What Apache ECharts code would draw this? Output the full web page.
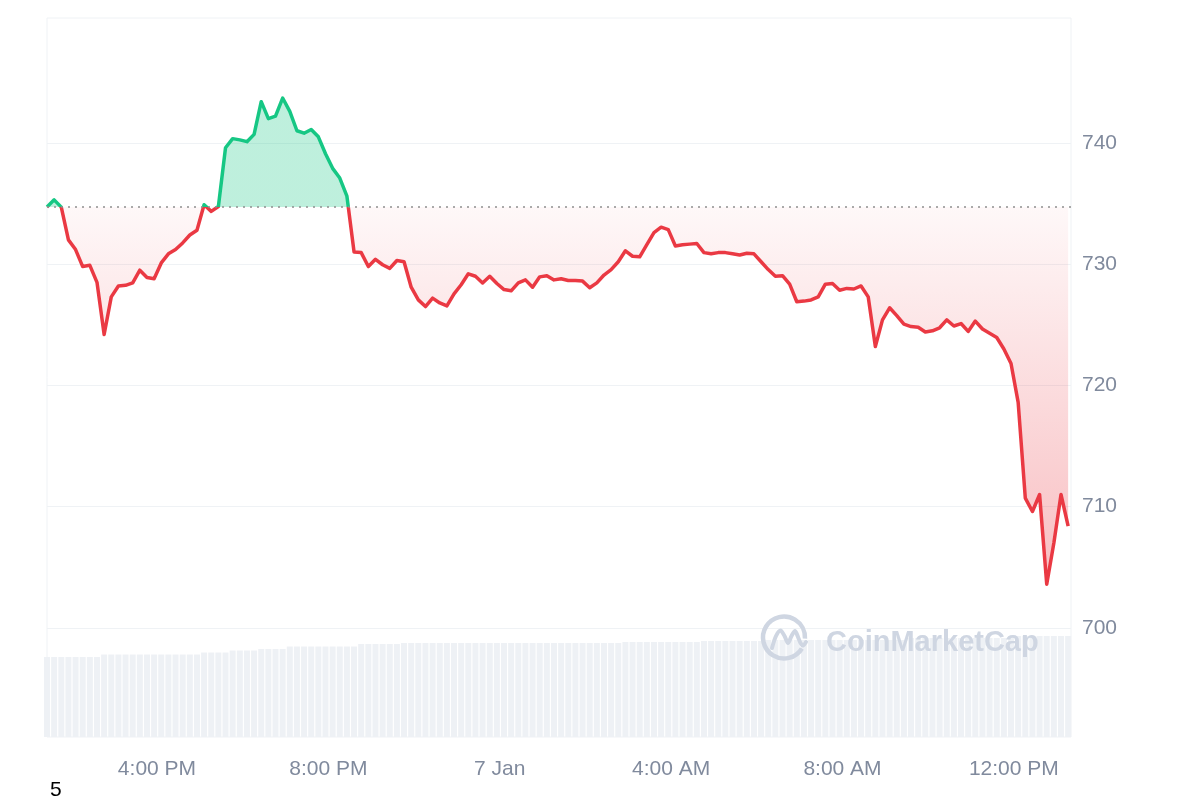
<!DOCTYPE html>
<html><head><meta charset="utf-8">
<script src="https://cdn.jsdelivr.net/npm/echarts@6/dist/echarts.min.js"></script>
<style>html,body{margin:0;padding:0;background:#fff}#c{width:1200px;height:800px}</style>
</head><body><div id="c"></div>
<script>
const startTime = '2025-01-06 13:26';
const endTime = '2025-01-07 13:20';
const stepMinutes = 10;
const baselinePrice = 734.72;

const prices = [
 734.72,735.3,734.7,732.0,731.2,729.8,729.9,728.5,724.2,727.3,
 728.2,728.25,728.45,729.5,728.9,728.8,730.1,730.85,731.2,731.75,
 732.4,732.8,734.9,734.35,734.75,739.6,740.35,740.25,740.1,740.7,
 743.4,742.0,742.2,743.7,742.6,741.0,740.8,741.1,740.5,739.1,
 737.9,737.1,735.6,731.0,730.95,729.8,730.4,729.95,729.65,730.3,
 730.2,728.1,727.05,726.5,727.2,726.8,726.55,727.55,728.3,729.2,
 729.0,728.45,729.0,728.4,727.9,727.8,728.45,728.7,728.1,728.95,
 729.05,728.7,728.8,728.65,728.65,728.6,728.05,728.45,729.1,729.55,
 730.2,731.1,730.65,730.6,731.6,732.6,733.05,732.85,731.5,731.6,
 731.65,731.7,730.95,730.85,730.95,730.95,730.85,730.75,730.9,730.85,
 730.2,729.55,729.0,729.05,728.35,726.9,726.95,727.05,727.3,728.35,
 728.4,727.85,728.0,727.95,728.2,727.3,723.2,725.4,726.4,725.75,
 725.05,724.85,724.8,724.4,724.5,724.75,725.4,724.9,725.1,724.45,
 725.3,724.65,724.3,723.95,723.0,721.8,718.6,710.7,709.6,711.0,
 703.6,707.0,711.0,708.4
];

const volumes = [
 1.60,1.60,1.60,1.60,1.60,1.60,1.60,1.60,
 1.65,1.65,1.65,1.65,1.65,1.65,1.65,1.65,1.65,1.65,1.65,1.65,1.65,1.65,
 1.69,1.69,1.69,1.69,
 1.73,1.73,1.73,1.73,
 1.76,1.76,1.76,1.76,
 1.81,1.81,1.81,1.81,1.81,1.81,1.81,1.81,1.81,1.81,
 1.86,1.86,1.86,1.86,1.86,1.86,
 1.88,1.88,1.88,1.88,1.88,1.88,1.88,1.88,1.88,1.88,1.88,1.88,1.88,1.88,1.88,1.88,
 1.88,1.88,1.88,1.88,1.88,1.88,1.88,1.88,1.88,1.88,1.88,1.88,1.88,1.88,1.88,
 1.90,1.90,1.90,1.90,1.90,1.90,1.90,1.90,1.90,1.90,1.90,
 1.92,1.92,1.92,1.92,1.92,1.92,1.92,1.92,1.92,
 1.94,1.94,1.94,1.94,1.94,1.94,1.94,1.94,1.94,1.94,1.94,1.94,1.94,1.94,1.94,1.94,1.94,1.94,1.94,1.94,
 1.98,1.98,1.98,1.98,1.98,1.98,1.98,1.98,1.98,1.98,1.98,1.98,1.98,1.98,
 2.02,2.02,2.02,2.02,2.02,2.02,2.02,2.02,2.02
];

const xTickTimes = ['2025-01-06 16:00','2025-01-06 20:00','2025-01-07 00:00','2025-01-07 04:00','2025-01-07 08:00','2025-01-07 12:00'];
const xTickLabels = ['4:00 PM','8:00 PM','7 Jan','4:00 AM','8:00 AM','12:00 PM'];
const yTicks = [700, 710, 720, 730, 740];

function parseLocal(s) {
  const [d, t] = s.split(' ');
  const [Y, M, D] = d.split('-').map(Number);
  const [h, m] = t.split(':').map(Number);
  return new Date(Y, M - 1, D, h, m).getTime();
}

const t0 = parseLocal(startTime);
const tEnd = parseLocal(endTime);
const step = stepMinutes * 60000;
const priceData = prices.map((p, i) => [t0 + i * step, p]);
const volData = volumes.map((v, i) => [t0 + i * step, v]);
const tickTs = xTickTimes.map(parseLocal);

const G = { left: 47, top: 18, width: 1024, height: 719 };
const yMin = 691, yMax = 750.3;
const volMax = 14.38;

const pix = v => G.top + (yMax - v) / (yMax - yMin) * G.height;
const bFrac = (pix(baselinePrice) - G.top) / G.height;
const lowFrac = Math.min(1, (pix(Math.min(...prices)) - G.top) / G.height);

const GREEN = '#16c784', RED = '#ea3943';
const areaGrad = new echarts.graphic.LinearGradient(0, G.top, 0, G.top + G.height, [
  { offset: 0, color: 'rgba(22,199,132,0.28)' },
  { offset: bFrac, color: 'rgba(22,199,132,0.28)' },
  { offset: bFrac, color: 'rgba(234,57,67,0.035)' },
  { offset: lowFrac, color: 'rgba(234,57,67,0.33)' },
  { offset: 1, color: 'rgba(234,57,67,0.33)' }
], true);
const lineGrad = new echarts.graphic.LinearGradient(0, G.top, 0, G.top + G.height, [
  { offset: 0, color: GREEN },
  { offset: bFrac, color: GREEN },
  { offset: bFrac, color: RED },
  { offset: 1, color: RED }
], true);

const FONT = 'Liberation Sans, Arial, sans-serif';
const wmColor = '#cfd6e2';

const chart = echarts.init(document.getElementById('c'), null, { renderer: 'canvas' });
chart.setOption({
  animation: false,
  backgroundColor: '#fff',
  grid: { left: G.left, top: G.top, width: G.width, height: G.height, show: true, borderColor: '#eff2f5', borderWidth: 1, containLabel: false },
  xAxis: {
    type: 'value', min: t0, max: tEnd, scale: true,
    axisLine: { show: false }, axisTick: { show: false, customValues: tickTs }, splitLine: { show: false },
    axisLabel: {
      customValues: tickTs, color: '#808a9d', fontSize: 21, fontFamily: FONT, margin: 22,
      formatter: function (v) { const k = tickTs.indexOf(v); return k >= 0 ? xTickLabels[k] : ''; }
    }
  },
  yAxis: [
    {
      type: 'value', position: 'right', min: yMin, max: yMax,
      axisLine: { show: false },
      axisTick: { show: false, customValues: yTicks },
      axisLabel: { customValues: yTicks, color: '#808a9d', fontSize: 21, fontFamily: FONT, margin: 11 },
      splitLine: { show: true, lineStyle: { color: '#eff2f5', width: 1 } }
    },
    { type: 'value', min: 0, max: volMax, show: false, splitLine: { show: false } }
  ],
  series: [
    {
      type: 'bar', yAxisIndex: 1, data: volData, barWidth: 6, silent: true, clip: true,
      itemStyle: { color: '#eef1f5' }
    },
    {
      type: 'line', yAxisIndex: 0, data: priceData, showSymbol: false, silent: true,
      lineStyle: { width: 3.5, join: 'round', color: lineGrad },
      itemStyle: { color: RED },
      areaStyle: { origin: baselinePrice, color: areaGrad, opacity: 1 },
      markLine: {
        silent: true, symbol: 'none', label: { show: false },
        lineStyle: { color: '#8f8f8f', type: [2, 5], width: 1.5 },
        data: [ { yAxis: baselinePrice } ]
      },
      z: 3
    }
  ],
  graphic: [
    { type: 'text', left: 50, top: 780, z: 10, style: { text: '5', fill: '#000', fontSize: 21, fontFamily: FONT } },
    { type: 'arc', z: 10, shape: { cx: 784, cy: 637.5, r: 21, startAngle: 0.55, endAngle: Math.PI * 2 + 0.05 }, style: { stroke: wmColor, lineWidth: 4.5, fill: null } },
    { type: 'polyline', z: 10, shape: { points: [[772,648],[776,636],[780.5,630.5],[784.5,636],[788,643],[791.5,636],[795,631],[798,637],[800.5,643],[803,645.5],[806,642]], smooth: 0.3 }, style: { stroke: wmColor, lineWidth: 4, fill: null, lineCap: 'round', lineJoin: 'round' } },
    { type: 'text', x: 826, y: 643, z: 10, style: { text: 'CoinMarketCap', fill: wmColor, fontSize: 29, fontWeight: 'bold', fontFamily: FONT, verticalAlign: 'middle', align: 'left' } }
  ]
});
</script>
</body></html>
